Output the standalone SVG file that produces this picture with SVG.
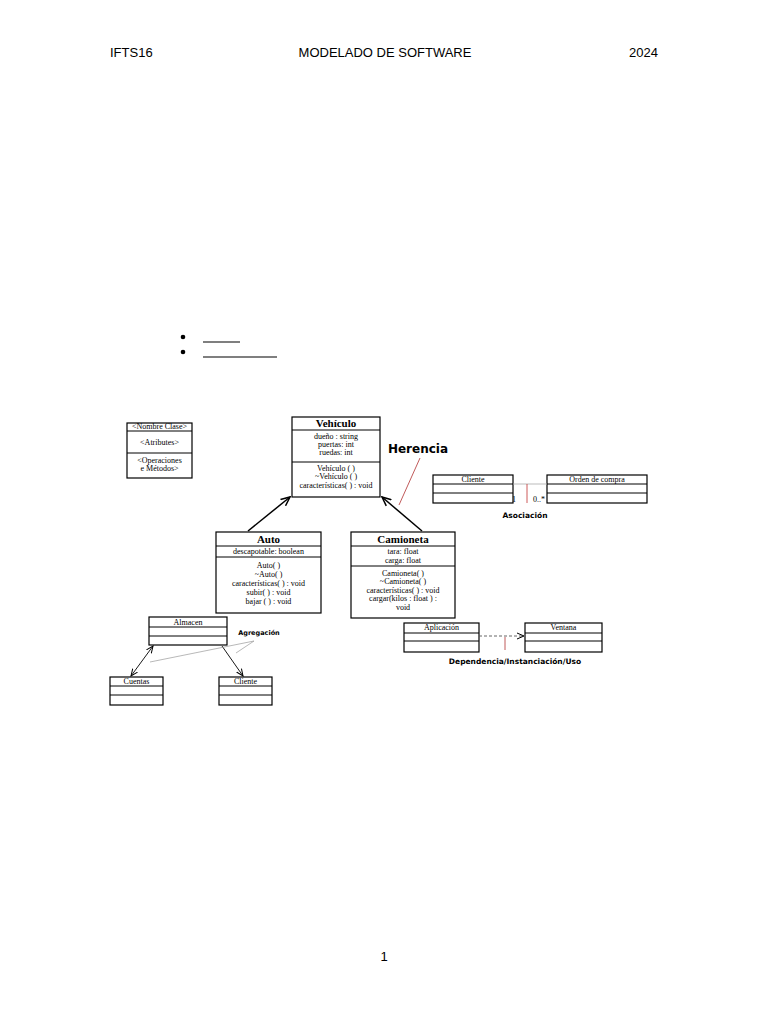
<svg xmlns="http://www.w3.org/2000/svg" width="768" height="1024" viewBox="0 0 768 1024">
<style>
.h{font-family:"Liberation Sans",Calibri,sans-serif;font-size:13px;fill:#000}
.b{fill:#fff;stroke:#000;stroke-width:1.2}
.l{stroke:#000;stroke-width:1}
.s{font-family:"Liberation Serif",serif;font-size:8px;fill:#000;text-anchor:middle}
.t{font-family:"Liberation Serif",serif;font-size:11px;font-weight:bold;fill:#000;text-anchor:middle}
.lab{font-family:"DejaVu Sans",sans-serif;font-weight:bold;fill:#000;text-anchor:middle}
</style>
<defs>
<marker id="a" markerWidth="10" markerHeight="10" refX="9" refY="5" orient="auto" markerUnits="userSpaceOnUse"><path d="M0,1 L9,5 L0,9" fill="none" stroke="#000" stroke-width="1.5"/></marker>
<marker id="as" markerWidth="8" markerHeight="8" refX="7" refY="4" orient="auto-start-reverse" markerUnits="userSpaceOnUse"><path d="M0,1 L7,4 L0,7" fill="none" stroke="#000" stroke-width="1"/></marker>
</defs>
<rect width="768" height="1024" fill="#fff"/>
<text class="h" x="110" y="57">IFTS16</text>
<text class="h" x="385" y="57" text-anchor="middle">MODELADO DE SOFTWARE</text>
<text class="h" x="658" y="57" text-anchor="end">2024</text>
<text class="h" x="384" y="961" text-anchor="middle">1</text>
<circle cx="183" cy="337" r="2.3"/><circle cx="183" cy="352" r="2.3"/>
<line x1="203" y1="342" x2="240" y2="342" stroke="#000" stroke-width="1.2"/>
<line x1="203" y1="357" x2="277" y2="357" stroke="#000" stroke-width="1.2"/>

<g id="legend">
<rect class="b" x="127" y="423" width="65" height="55" stroke-width="0.8"/>
<line class="l" x1="127" y1="431" x2="192" y2="431" stroke-width="0.7"/>
<line class="l" x1="127" y1="453" x2="192" y2="453" stroke-width="0.7"/>
<text class="s" x="159.5" y="429" font-size="6.5">&lt;Nombre Clase&gt;</text>
<text class="s" x="159.5" y="445" font-size="6.5">&lt;Atributes&gt;</text>
<text class="s" x="159.5" y="463" font-size="6.5">&lt;Operaciones</text>
<text class="s" x="159.5" y="471" font-size="6.5">e Métodos&gt;</text>
</g>

<g id="vehiculo">
<rect class="b" x="292" y="417" width="88" height="80"/>
<line class="l" x1="292" y1="430" x2="380" y2="430"/>
<line class="l" x1="292" y1="462" x2="380" y2="462"/>
<text class="t" x="336" y="427">Vehículo</text>
<text class="s" x="336" y="439">dueño : string</text>
<text class="s" x="336" y="447">puertas: int</text>
<text class="s" x="336" y="455">ruedas: int</text>
<text class="s" x="336" y="471">Vehículo ( )</text>
<text class="s" x="336" y="479">~Vehículo ( )</text>
<text class="s" x="336" y="488">características( ) : void</text>
</g>

<g id="auto">
<rect class="b" x="216" y="532" width="105" height="81"/>
<line class="l" x1="216" y1="546" x2="321" y2="546"/>
<line class="l" x1="216" y1="557" x2="321" y2="557"/>
<text class="t" x="268.5" y="543">Auto</text>
<text class="s" x="268.5" y="554">descapotable: boolean</text>
<text class="s" x="268.5" y="568">Auto( )</text>
<text class="s" x="268.5" y="577">~Auto( )</text>
<text class="s" x="268.5" y="586">características( ) : void</text>
<text class="s" x="268.5" y="595">subir( ) : void</text>
<text class="s" x="268.5" y="604">bajar ( ) : void</text>
</g>

<g id="camioneta">
<rect class="b" x="351" y="532" width="104" height="86"/>
<line class="l" x1="351" y1="546" x2="455" y2="546"/>
<line class="l" x1="351" y1="566" x2="455" y2="566"/>
<text class="t" x="403" y="543">Camioneta</text>
<text class="s" x="403" y="554">tara: float</text>
<text class="s" x="403" y="563">carga: float</text>
<text class="s" x="403" y="576">Camioneta( )</text>
<text class="s" x="403" y="584">~Camioneta( )</text>
<text class="s" x="403" y="593">características( ) : void</text>
<text class="s" x="403" y="601">cargar(kilos : float ) :</text>
<text class="s" x="403" y="610">void</text>
</g>

<g id="herencia">
<text class="lab" x="418" y="453" font-size="12">Herencia</text>
</g>

<g id="cliente1">
<rect class="b" x="433" y="475" width="80" height="28" stroke-width="1"/>
<line class="l" x1="433" y1="484" x2="513" y2="484"/>
<line class="l" x1="433" y1="493" x2="513" y2="493"/>
<text class="s" x="473" y="482">Cliente</text>
</g>
<g id="orden">
<rect class="b" x="547" y="475" width="100" height="28" stroke-width="1"/>
<line class="l" x1="547" y1="484" x2="647" y2="484"/>
<line class="l" x1="547" y1="493" x2="647" y2="493"/>
<text class="s" x="597" y="482">Orden de compra</text>
</g>
<text class="lab" x="525" y="518" font-size="7.5">Asociación</text>
<text class="s" x="514" y="502" font-size="4">1</text>
<text class="s" x="539" y="502" font-size="4">0..*</text>

<g id="almacen">
<rect class="b" x="149" y="617" width="78" height="28" stroke-width="1"/>
<line class="l" x1="149" y1="627" x2="227" y2="627"/>
<line class="l" x1="149" y1="636" x2="227" y2="636"/>
<text class="s" x="188" y="625">Almacen</text>
</g>
<text class="lab" x="259" y="635" font-size="6.5">Agregación</text>
<g id="cuentas">
<rect class="b" x="110" y="677" width="53" height="28" stroke-width="1"/>
<line class="l" x1="110" y1="686" x2="163" y2="686"/>
<line class="l" x1="110" y1="695" x2="163" y2="695"/>
<text class="s" x="136.5" y="684">Cuentas</text>
</g>
<g id="cliente2">
<rect class="b" x="219" y="677" width="53" height="28" stroke-width="1"/>
<line class="l" x1="219" y1="686" x2="272" y2="686"/>
<line class="l" x1="219" y1="695" x2="272" y2="695"/>
<text class="s" x="245.5" y="684">Cliente</text>
</g>

<g id="aplicacion">
<rect class="b" x="404" y="623" width="75" height="29" stroke-width="1"/>
<line class="l" x1="404" y1="633" x2="479" y2="633"/>
<line class="l" x1="404" y1="641" x2="479" y2="641"/>
<text class="s" x="441.5" y="630">Aplicación</text>
</g>
<g id="ventana">
<rect class="b" x="525" y="623" width="77" height="29" stroke-width="1"/>
<line class="l" x1="525" y1="633" x2="602" y2="633"/>
<line class="l" x1="525" y1="641" x2="602" y2="641"/>
<text class="s" x="563.5" y="630">Ventana</text>
</g>
<text class="lab" x="515" y="664" font-size="7.5">Dependencia/Instanciación/Uso</text>

<g id="connectors" fill="none">
<line x1="248" y1="531" x2="290" y2="497" stroke="#000" stroke-width="1.5" marker-end="url(#a)"/>
<line x1="422" y1="531" x2="382" y2="497" stroke="#000" stroke-width="1.5" marker-end="url(#a)"/>
<line x1="420" y1="458" x2="399" y2="505" stroke="#b03030" stroke-width="0.8"/>
<line x1="513" y1="484" x2="547" y2="484" stroke="#aaa" stroke-width="0.8"/>
<line x1="527" y1="484" x2="527" y2="503" stroke="#c03030" stroke-width="0.8"/>
<line x1="153" y1="646" x2="131" y2="676" stroke="#000" stroke-width="0.9" marker-start="url(#as)" marker-end="url(#as)"/>
<line x1="222" y1="646" x2="243" y2="676" stroke="#000" stroke-width="0.9" marker-end="url(#as)"/>
<polyline points="150,662 254,641 236,653" stroke="#999" stroke-width="0.7"/>
<line x1="479" y1="636" x2="524" y2="636" stroke="#555" stroke-width="0.9" stroke-dasharray="3,2" marker-end="url(#as)"/>
<line x1="505" y1="637" x2="505" y2="650" stroke="#b03030" stroke-width="0.8"/>
</g>
</svg>
